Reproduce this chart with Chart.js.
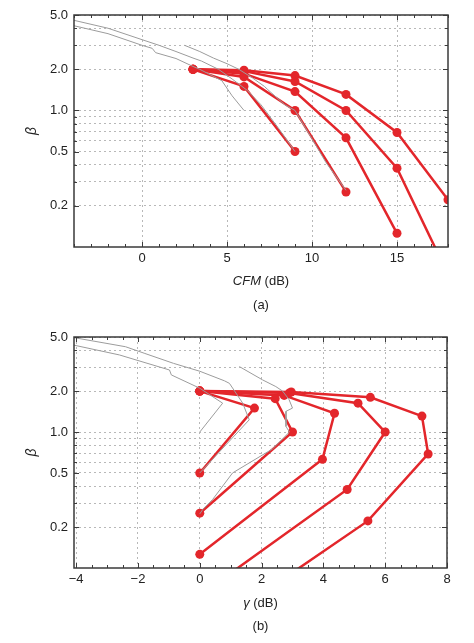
<!DOCTYPE html>
<html><head><meta charset="utf-8">
<script src="https://cdn.jsdelivr.net/npm/chart.js@4.4.1/dist/chart.umd.min.js"></script>
<style>html,body{margin:0;padding:0;background:#fff;}canvas{display:block;}</style>
</head><body>
<canvas id="ca" width="474" height="320"></canvas>
<canvas id="cb" width="474" height="323"></canvas>
<script>
// ---------- data ----------
// Panel (a): x = CFM (dB)
const cfmS1 = [3, 6, 9];
const cfmS2 = [3, 6, 9, 12];
const cfmS3 = [3, 6, 9, 12, 15];
const cfmS4 = [3, 6, 9, 12, 15, 18];
const cfmS5 = [3, 6, 9, 12, 15, 18, 21];
// beta values (shared by both panels)
const betaS1 = [2.0, 1.5, 0.5];
const betaS2 = [2.0, 1.76, 1.0, 0.253];
const betaS3 = [2.0, 1.86, 1.375, 0.63, 0.126];
const betaS4 = [2.0, 1.94, 1.63, 1.0, 0.378, 0.063];
const betaS5 = [2.0, 1.97, 1.8, 1.31, 0.69, 0.222, 0.0316];
// Panel (b): x = gamma (dB)
const gamS1 = [0, 1.77, 0];
const gamS2 = [0, 2.44, 3.0, 0];
const gamS3 = [0, 2.73, 4.36, 3.97, 0];
const gamS4 = [0, 2.9, 5.12, 6.0, 4.77, 0];
const gamS5 = [0, 2.96, 5.52, 7.19, 7.39, 5.44, 0];

// grey reference curves, panel (a)
const g1aX = [-4.1, -2, 0, 1, 2, 3, 3.5, 4.5, 5.3, 6.2, 7, 8, 9];
const g1aY = [4.6, 4.0, 3.3, 3.0, 2.7, 2.42, 2.3, 2.0, 1.7, 1.4, 1.1, 0.75, 0.5];
const g2aX = [-4.1, -2, 0, 0.6, 0.8, 2, 3, 3.4, 4.7, 5.3, 6];
const g2aY = [4.2, 3.65, 3.0, 2.85, 2.65, 2.4, 2.1, 2.0, 1.65, 1.28, 1.0];
const g3aX = [2.5, 3.4, 4.2, 5.0, 5.7, 6.5, 7.2, 7.4, 8.4, 9, 10, 10.8, 12];
const g3aY = [3.0, 2.7, 2.42, 2.2, 2.0, 1.73, 1.5, 1.42, 1.1, 1.0, 0.62, 0.42, 0.26];
// grey reference curves, panel (b)
const g1bX = [-4.08, -2.4, -1.8, -0.85, 0, 0.8, 0.96, 1.39, 1.6, 0];
const g1bY = [4.95, 4.24, 3.8, 3.2, 2.8, 2.38, 2.28, 1.63, 1.23, 0.5];
const g2bX = [-4.08, -2.6, -0.98, -0.92, 0, 0.74, 0];
const g2bY = [4.36, 3.69, 2.86, 2.63, 2.1, 1.63, 1.0];
const g3bX = [1.28, 2.03, 2.46, 2.68, 2.89, 3.0, 2.79, 2.79, 2.9, 2.35, 1.06, 0.42, 0.1, 0];
const g3bY = [3.03, 2.42, 2.16, 2.0, 1.73, 1.5, 1.42, 1.1, 1.0, 0.75, 0.5, 0.32, 0.27, 0.25];

// ticks
const yGridVals = [0.2, 0.3, 0.4, 0.5, 0.6, 0.7, 0.8, 0.9, 1, 2, 3, 4, 5];
const yLabelVals = [0.2, 0.5, 1, 2, 5];
const xTicksA = [0, 5, 10, 15];
const xTicksB = [-4, -2, 0, 2, 4, 6, 8];

// ---------- drawing ----------
const RED = '#e3262b';
const GREY = '#9c9c9c';
const FONT = '"Liberation Sans", Arial, sans-serif';
Chart.defaults.font.family = FONT;
Chart.defaults.font.size = 13;
Chart.defaults.color = '#222';

function pts(xs, ys) { return xs.map((x, i) => ({ x: x, y: ys[i] })); }
function redSet(xs, ys) {
  return { data: pts(xs, ys), borderColor: RED, backgroundColor: RED, borderWidth: 2.5,
    pointRadius: 4.5, pointBorderWidth: 0, pointBackgroundColor: RED, tension: 0, clip: 0, order: 1 };
}
function greySet(xs, ys) {
  return { data: pts(xs, ys), borderColor: GREY, borderWidth: 1, pointRadius: 0, tension: 0, clip: 0, order: 0 };
}

function decor(o) {
  return {
    id: 'decor',
    afterDraw(chart) {
      const { ctx, chartArea: a, scales } = chart;
      const x = scales.x, y = scales.y;
      ctx.save();
      const seg = (x1, y1, x2, y2) => { ctx.beginPath(); ctx.moveTo(x1, y1); ctx.lineTo(x2, y2); ctx.stroke(); };
      ctx.strokeStyle = '#3c3c3c';
      ctx.lineWidth = 1;
      // x ticks (inward, top and bottom)
      for (let v = o.xMin0; v <= o.xMax + 1e-9; v += o.xMinorStep) {
        const px = Math.round(x.getPixelForValue(v)) + 0.5;
        if (px < a.left - 0.5 || px > a.right + 0.5) continue;
        const major = o.xTicks.some(t => Math.abs(t - v) < 1e-6);
        const L = major ? 5 : 3;
        seg(px, a.bottom, px, a.bottom - L);
        seg(px, a.top, px, a.top + L);
      }
      // y ticks (inward, left and right)
      yGridVals.forEach(v => {
        const py = Math.round(y.getPixelForValue(v)) + 0.5;
        const major = yLabelVals.includes(v);
        const L = major ? 5 : 3;
        seg(a.left, py, a.left + L, py);
        seg(a.right, py, a.right - L, py);
      });
      // frame
      ctx.lineWidth = 1.5;
      ctx.strokeStyle = '#3a3a3a';
      ctx.strokeRect(a.left, a.top, a.right - a.left, a.bottom - a.top);
      // titles
      ctx.fillStyle = '#222';
      ctx.textBaseline = 'middle';
      const cx = (a.left + a.right) / 2;
      // x title: italic part + normal part
      ctx.font = 'italic 13px ' + FONT;
      const w1 = ctx.measureText(o.xTitleItalic).width;
      ctx.font = '13px ' + FONT;
      const w2 = ctx.measureText(o.xTitleNormal).width;
      let sx = cx - (w1 + w2) / 2;
      ctx.textAlign = 'left';
      ctx.font = 'italic 13px ' + FONT;
      ctx.fillText(o.xTitleItalic, sx, o.xTitleY);
      ctx.font = '13px ' + FONT;
      ctx.fillText(o.xTitleNormal, sx + w1, o.xTitleY);
      // caption
      ctx.textAlign = 'center';
      ctx.font = '13px ' + FONT;
      ctx.fillText(o.caption, cx, o.captionY);
      // y title (beta), rotated
      ctx.save();
      ctx.translate(32, (a.top + a.bottom) / 2);
      ctx.rotate(-Math.PI / 2);
      ctx.font = 'italic 14px ' + FONT;
      ctx.fillText('β', 0, 0);
      ctx.restore();
      ctx.restore();
    }
  };
}

function makeChart(id, o) {
  return new Chart(document.getElementById(id), {
    type: 'line',
    data: { datasets: o.datasets },
    options: {
      responsive: false, animation: false, devicePixelRatio: 1,
      layout: { padding: { left: 0, right: o.padRight, top: o.padTop, bottom: 0 } },
      plugins: { legend: { display: false }, tooltip: { enabled: false } },
      scales: {
        x: {
          type: 'linear', min: o.xMin, max: o.xMax,
          afterBuildTicks: s => { s.ticks = o.xTicks.map(v => ({ value: v })); },
          afterFit: s => { s.height = o.xAxisH; },
          grid: { color: '#b8b8b8', lineWidth: 1, drawTicks: false },
          border: { display: false, dash: [2, 3] },
          ticks: { padding: 4, autoSkip: false, maxRotation: 0,
            callback: v => (v < 0 ? '\u2212' + Math.abs(v) : String(v)) }
        },
        y: {
          type: 'logarithmic', min: 0.1, max: 5,
          afterBuildTicks: s => { s.ticks = yGridVals.map(v => ({ value: v })); },
          afterFit: s => { s.width = 74; },
          grid: { color: '#b8b8b8', lineWidth: 1, drawTicks: false },
          border: { display: false, dash: [2, 3] },
          ticks: { padding: 6, autoSkip: false,
            callback: v => (yLabelVals.includes(v) ? v.toFixed(1) : '') }
        }
      }
    },
    plugins: [decor(o)]
  });
}

makeChart('ca', {
  datasets: [
    greySet(g1aX, g1aY), greySet(g2aX, g2aY), greySet(g3aX, g3aY),
    redSet(cfmS1, betaS1), redSet(cfmS2, betaS2), redSet(cfmS3, betaS3),
    redSet(cfmS4, betaS4), redSet(cfmS5, betaS5)
  ],
  xMin: -4, xMax: 18, xTicks: xTicksA, xMin0: -4, xMinorStep: 1,
  padRight: 26, padTop: 15, xAxisH: 73,
  xTitleItalic: 'CFM', xTitleNormal: ' (dB)', xTitleY: 281, caption: '(a)', captionY: 305
});

makeChart('cb', {
  datasets: [
    greySet(g1bX, g1bY), greySet(g2bX, g2bY), greySet(g3bX, g3bY),
    redSet(gamS1, betaS1), redSet(gamS2, betaS2), redSet(gamS3, betaS3),
    redSet(gamS4, betaS4), redSet(gamS5, betaS5)
  ],
  xMin: -4.07, xMax: 8, xTicks: xTicksB, xMin0: -4, xMinorStep: 0.5,
  padRight: 27, padTop: 17, xAxisH: 75,
  xTitleItalic: 'γ', xTitleNormal: ' (dB)', xTitleY: 283, caption: '(b)', captionY: 306
});
</script>
</body></html>
